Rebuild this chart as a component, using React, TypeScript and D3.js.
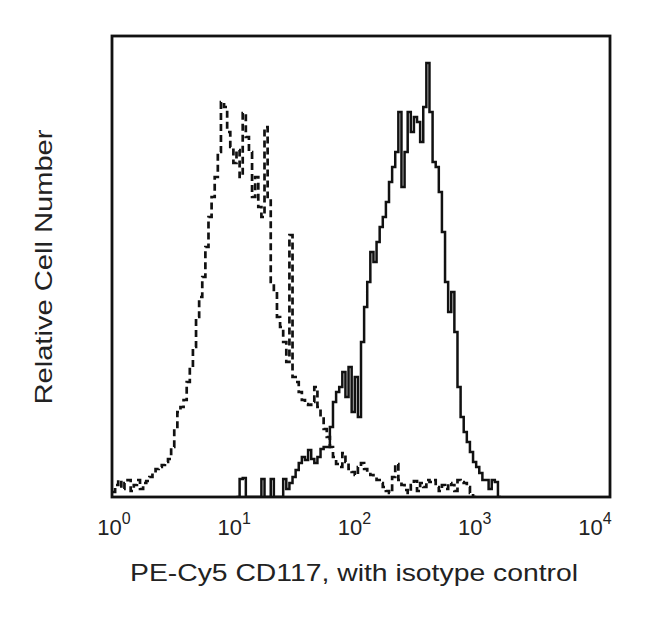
import React from "react";
import * as d3 from "d3";

// Histogram bins: 40 bins per decade, from 10^0 to 10^4
const BINS_PER_DECADE = 40;
const xDecades = [0, 1, 2, 3, 4];

// Isotype control (dashed), starting at bin 0
const isotypeStart = 0;
const isotypeCounts = [
  5, 12, 17, 8, 14, 17, 6, 12, 17, 8,
  14, 16, 20, 24, 28, 30, 32, 35, 38, 50,
  70, 85, 90, 97, 115, 130, 150, 180, 200, 220,
  250, 280, 300, 320, 345, 395, 390, 365, 350, 334,
  347, 320, 384, 360, 345, 300, 320, 290, 280, 370,
  300, 215, 205, 180, 170, 155, 135, 262, 120, 115,
  105, 97, 93, 92, 95, 110, 90, 80, 68, 60,
  50, 40, 33, 30, 44, 35, 28, 25, 22, 30,
  34, 28, 25, 22, 20, 17, 14, 10, 6, 4,
  20, 33, 17, 12, 7, 4, 12, 16, 6, 14,
  10, 17, 15, 17, 10, 6, 12, 8, 14, 12,
  6, 17, 15, 14, 10, 4, 0,
];

// PE-Cy5 CD117 (solid), starting at bin 40
const cd117Start = 40;
const cd117Counts = [
  0, 18, 19, 0, 0, 0, 0, 0, 18, 0,
  0, 18, 0, 0, 0, 18, 8, 14, 20, 27,
  34, 40, 37, 47, 38, 34, 40, 48, 50, 50,
  70, 95, 105, 110, 125, 100, 130, 85, 120, 80,
  155, 190, 215, 245, 235, 255, 270, 280, 295, 315,
  330, 345, 385, 310, 345, 385, 365, 380, 375, 355,
  390, 434, 385, 335, 330, 305, 265, 215, 185, 205,
  165, 110, 80, 65, 55, 45, 35, 30, 24, 17,
  17, 8, 17, 15, 0,
];

const yMax = 461;

const W = 650;
const H = 622;
const frame = { left: 112, right: 610, top: 36, bottom: 497 };

function toPoints(start: number, counts: number[]): [number, number][] {
  const pts: [number, number][] = counts.map((c, i) => [
    Math.pow(10, (start + i) / BINS_PER_DECADE),
    c,
  ]);
  pts.push([Math.pow(10, (start + counts.length) / BINS_PER_DECADE), counts[counts.length - 1]]);
  return pts;
}

export default function App() {
  const x = d3.scaleLog().domain([1, 1e4]).range([frame.left, frame.right]);
  const y = d3.scaleLinear().domain([0, yMax]).range([frame.bottom, frame.top]);
  const labelX = d3.scaleLinear().domain([0, 4]).range([114, 595]);

  const line = d3
    .line<[number, number]>()
    .x((d) => x(d[0]))
    .y((d) => y(d[1]))
    .curve(d3.curveStepAfter);

  const isoPath = line(toPoints(isotypeStart, isotypeCounts)) || "";
  const cdPath = line(toPoints(cd117Start, cd117Counts)) || "";

  const font = "'Liberation Sans', Arial, Helvetica, sans-serif";

  return (
    <svg width={W} height={H} style={{ position: "absolute", left: 0, top: 0, background: "#fff" }}>
      <defs>
        <clipPath id="plotclip">
          <rect
            x={frame.left}
            y={frame.top}
            width={frame.right - frame.left}
            height={frame.bottom - frame.top}
          />
        </clipPath>
      </defs>
      <rect x={0} y={0} width={W} height={H} fill="#fff" />
      <g clipPath="url(#plotclip)">
        <path
          d={isoPath}
          fill="none"
          stroke="#111"
          strokeWidth={2.7}
          strokeDasharray="7 4"
        />
        <path d={cdPath} fill="none" stroke="#111" strokeWidth={2.5} />
      </g>
      <rect
        x={frame.left}
        y={frame.top}
        width={frame.right - frame.left}
        height={frame.bottom - frame.top}
        fill="none"
        stroke="#111"
        strokeWidth={2.8}
      />
      {xDecades.map((d) => (
        <text
          key={d}
          x={labelX(d)}
          y={535}
          fontFamily={font}
          fontSize={22}
          fill="#222"
          textAnchor="middle"
        >
          10
          <tspan dy={-11} fontSize={16}>
            {d}
          </tspan>
        </text>
      ))}
      <text
        x={354}
        y={581}
        fontFamily={font}
        fontSize={24}
        fill="#222"
        textAnchor="middle"
        textLength={448}
        lengthAdjust="spacingAndGlyphs"
      >
        PE-Cy5 CD117, with isotype control
      </text>
      <text
        transform="translate(52,267) rotate(-90)"
        fontFamily={font}
        fontSize={24}
        fill="#222"
        textAnchor="middle"
        textLength={275}
        lengthAdjust="spacingAndGlyphs"
      >
        Relative Cell Number
      </text>
    </svg>
  );
}
